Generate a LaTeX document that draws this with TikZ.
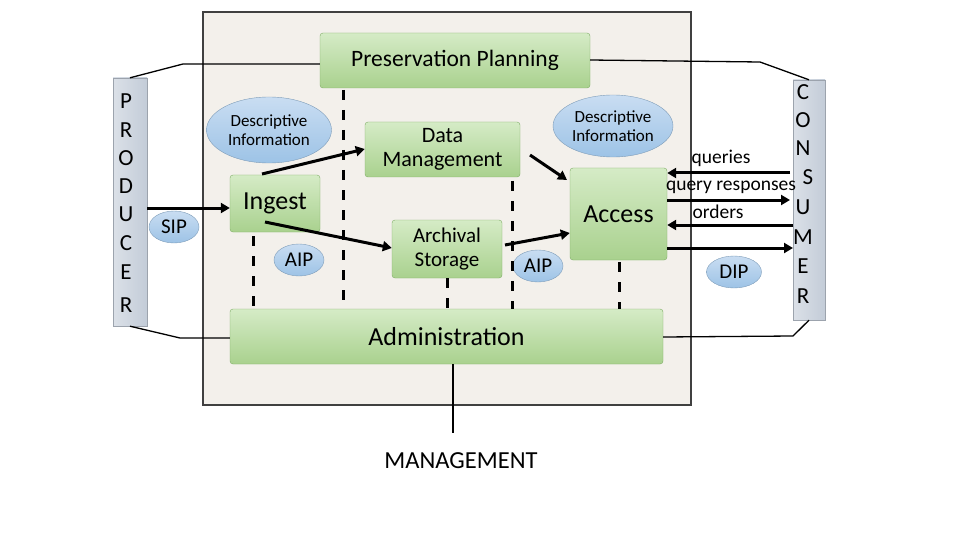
\documentclass[tikz,border=0pt]{standalone}
\usepackage{fontspec}
\setmainfont{Carlito}
\usetikzlibrary{arrows.meta,shapes.geometric}
\definecolor{gfill}{HTML}{A9D18E}
\definecolor{gtop}{HTML}{D5EBC6}
\definecolor{gborder}{HTML}{7FAE66}
\definecolor{efill}{HTML}{9DC3E6}
\definecolor{etop}{HTML}{C9DDF2}
\definecolor{bgbox}{HTML}{F3F0EB}
\definecolor{bar}{HTML}{C3CCD8}
\begin{document}
\begin{tikzpicture}[x=1pt,y=-1pt,
  proc/.style={draw=gborder,rounded corners=3pt,top color=gtop,bottom color=gfill,inner sep=0pt,align=center,font=\fontsize{23.5}{26}\selectfont},
  ell/.style={ellipse,draw=efill!80!black,top color=etop,bottom color=efill,inner sep=0pt,align=center},
  dash1/.style={line width=3pt,dash pattern=on 10pt off 10pt},
  arr/.style={line width=3pt,-{Triangle[length=9pt,width=10pt]}},
  thin1/.style={line width=1.3pt}]
\useasboundingbox (0,0) rectangle (960,540);
\node[draw=black!75,line width=1.3pt,fill=bgbox,minimum width=488pt,minimum height=393pt,inner sep=0pt] (sys) at (447,208.5) {};
% bars
\node[draw=bar!80!black,left color=bar!60,right color=bar,minimum width=34pt,minimum height=248pt,inner sep=0pt] (prod) at (130,202) {};
\node[draw=bar!80!black,left color=bar!60,right color=bar,minimum width=32pt,minimum height=240pt,inner sep=0pt] (cons) at (809,200) {};
\foreach \l/\y in {P/101,R/130,O/158,D/186,U/214,C/243,E/272,R/305}
  \node[font=\fontsize{23}{24}\selectfont] at (126,\y) {\l};
\foreach \l/\xx/\y in {C/803/92,O/803/120,N/803/148,S/808/177,U/803/207,M/803/237,E/803/266,R/803/296}
  \node[font=\fontsize{23}{24}\selectfont] at (\xx,\y) {\l};
% processes
\node[proc,minimum width=270pt,minimum height=55pt] (pp) at (455,60.5) {Preservation Planning};
\node[proc,minimum width=155pt,minimum height=55pt,font=\fontsize{22}{24}\selectfont] (dm) at (442.5,149.5) {Data\\Management};
\node[proc,minimum width=90pt,minimum height=57pt,font=\fontsize{26}{28}\selectfont] (ing) at (275,203.5) {Ingest};
\node[proc,minimum width=110pt,minimum height=58pt,font=\fontsize{21}{24}\selectfont] (as) at (447,249) {Archival\\Storage};
\node[proc,minimum width=97pt,minimum height=92pt,font=\fontsize{26}{28}\selectfont] (acc) at (618.5,214) {Access};
\node[proc,minimum width=433pt,minimum height=55pt,font=\fontsize{26}{28}\selectfont] (adm) at (446.5,336.5) {Administration};
% ellipses
\node[ell,minimum width=125pt,minimum height=66pt,font=\fontsize{17}{19}\selectfont] (d1) at (269,130) {Descriptive\\Information};
\node[ell,minimum width=120pt,minimum height=62pt,font=\fontsize{17}{19}\selectfont] (d2) at (613,126) {Descriptive\\Information};
\node[ell,minimum width=50pt,minimum height=32pt,font=\fontsize{21}{22}\selectfont] (sip) at (174,227) {SIP};
\node[ell,minimum width=50pt,minimum height=32pt,font=\fontsize{21}{22}\selectfont] (aip1) at (299,260) {AIP};
\node[ell,minimum width=50pt,minimum height=32pt,font=\fontsize{21}{22}\selectfont] (aip2) at (538,266) {AIP};
\node[ell,minimum width=55pt,minimum height=32pt,font=\fontsize{21}{22}\selectfont] (dip) at (734,272) {DIP};
% outline lines
\draw[thin1] (prod.north) -- (183,64) -- (pp.west |- 0,64);
\draw[thin1] (pp.east |- 0,60) -- (760,62) -- (cons.north);
\draw[thin1] (prod.south) -- (180,338) -- (adm.west |- 0,338);
\draw[thin1] (adm.east |- 0,337) -- (793,336) -- (cons.south);
% dashed
\draw[dash1] (343,90) -- (343,309);
\draw[dash1] (253,236) -- (253,309);
\draw[dash1] (512,181) -- (512,309);
\draw[dash1] (447,278) -- (447,309);
\draw[dash1] (619,262) -- (619,309);
% arrows
\draw[arr] (262,174) -- (dm.west |- 0,149);
\draw[arr] (265,222) -- (as.west |- 0,248);
\draw[arr] (530,155) -- (567,180);
\draw[arr] (505,245) -- (acc.west |- 0,233);
\draw[arr] (prod.east |- 0,208) -- (ing.west |- 0,208);
\coordinate (c1) at (790,173); \coordinate (c2) at (790,200);
\coordinate (c3) at (793,225); \coordinate (c4) at (793,248);
\draw[arr] (c1) -- (acc.east |- c1);
\draw[arr] (acc.east |- c2) -- (c2);
\draw[arr] (c3) -- (acc.east |- c3);
\draw[arr] (acc.east |- c4) -- (c4);
\node[font=\fontsize{19.5}{21}\selectfont] (q) at (721,158) {queries};
\node[font=\fontsize{19.5}{21}\selectfont] (qr) at (731,187) {query responses};
\node[font=\fontsize{19.5}{21}\selectfont] (o) at (718,212) {orders};
% management
\node[font=\fontsize{24.5}{26}\selectfont] (mg) at (461,461) {MANAGEMENT};
\draw[line width=2.5pt] (adm.south -| 453,0) -- (453,433);
\end{tikzpicture}
\end{document}
